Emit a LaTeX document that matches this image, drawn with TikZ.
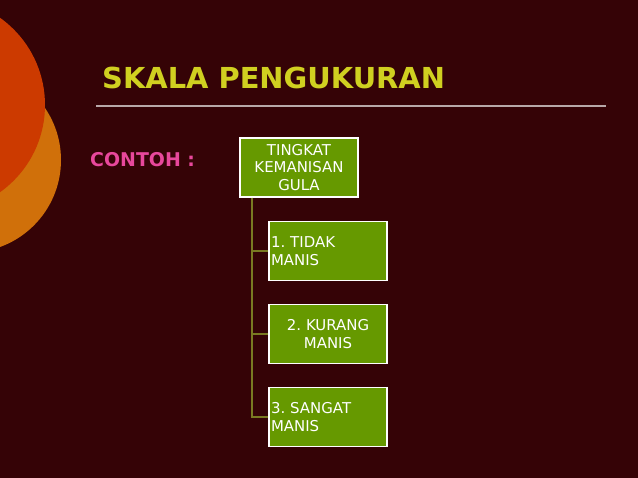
\documentclass[tikz,border=0pt]{standalone}
\usepackage{fontspec}
\setmainfont{DejaVu Sans}
\frenchspacing
\usetikzlibrary{positioning}
\definecolor{slidebg}{HTML}{350306}
\definecolor{discred}{HTML}{CC3A00}
\definecolor{discorange}{HTML}{D0700A}
\definecolor{titleyellow}{HTML}{D0D020}
\definecolor{contohpink}{HTML}{E8489C}
\definecolor{boxgreen}{HTML}{669900}
\definecolor{treeline}{HTML}{7A7A22}
\definecolor{rulegray}{HTML}{B8A8A8}

\begin{document}
\begin{tikzpicture}[x=1bp, y=-1bp,
  box/.style={draw=white, line width=1.6bp, fill=boxgreen, text=white,
    minimum width=118bp, minimum height=59bp, inner xsep=2bp, text width=114bp,
    font=\fontsize{15}{17.5}\selectfont},
  link/.style={draw=treeline, line width=2bp}]
  \clip (0,0) rectangle (638,478);
  \fill[slidebg] (0,0) rectangle (638,478);
  \fill[discorange] (-31.5,160) circle (92.5bp);
  \fill[discred] (-62,105) circle (107bp);
  \node[anchor=base west, inner sep=0, text=titleyellow, font=\fontsize{29}{34}\selectfont\bfseries] (title) at (102,89) {SKALA PENGUKURAN};
  \draw[rulegray, line width=1.3bp] (96,106) -- (606,106);
  \node[anchor=base west, inner sep=0, text=contohpink, font=\fontsize{19}{23}\selectfont\bfseries] (contoh) at (90,167) {CONTOH :};
  \node[box, align=center] (top) at (299,167.5) {TINGKAT\\KEMANISAN\\GULA};
  \node[box, align=left] (b1) at (328,251) {1. TIDAK\\MANIS};
  \node[box, align=center] (b2) at (328,334) {2. KURANG\\MANIS};
  \node[box, align=left] (b3) at (328,417) {3. SANGAT\\MANIS};
  \draw[link] ([xshift=13bp]top.south west) |- (b1.west);
  \draw[link] ([xshift=13bp]top.south west) |- (b2.west);
  \draw[link] ([xshift=13bp]top.south west) |- (b3.west);
\end{tikzpicture}
\end{document}
